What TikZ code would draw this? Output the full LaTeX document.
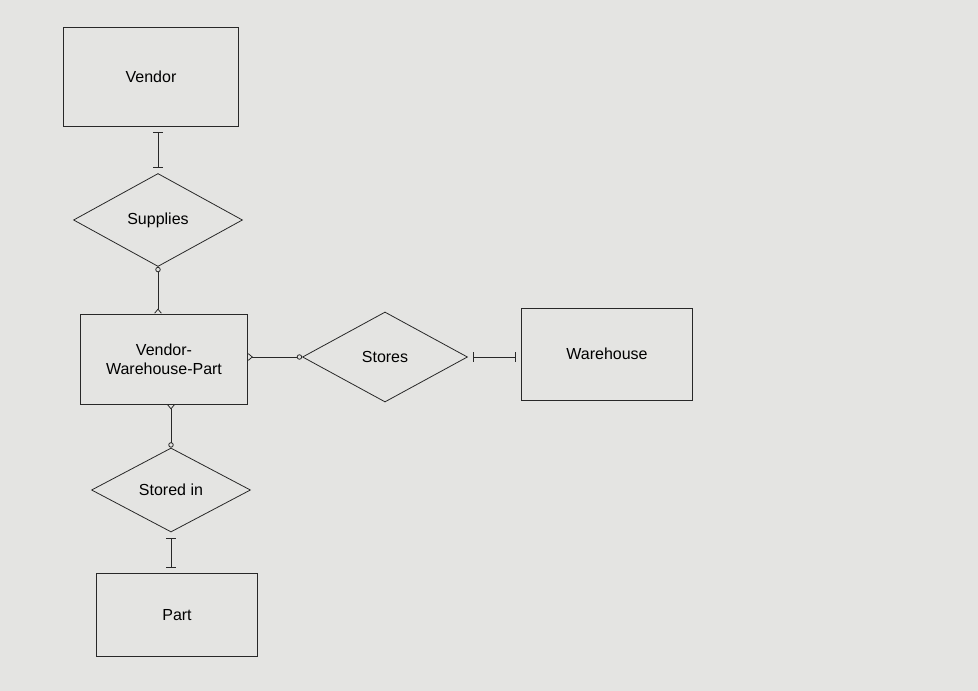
\documentclass[tikz,border=0pt]{standalone}
\usepackage{fontspec}
\setmainfont{Liberation Sans}
\usetikzlibrary{arrows.meta,shapes.geometric}
\definecolor{screen}{RGB}{228,228,226}
\definecolor{ink}{RGB}{40,40,40}

\begin{document}
\begin{tikzpicture}[x=0.75pt,y=-0.75pt,semithick,draw=ink,
                    entity/.style={rectangle,draw=ink,font=\large,align=center},
                    rel/.style={diamond,draw=ink,font=\large,inner sep=0pt},
                    one-one/.style={{Bar[width=7pt,sep=4pt]}-{Bar[width=7pt,sep=4pt]}},
                    zero-many/.style={{Circle[open,length=4pt,width=4pt]}-{Straight Barb[reversed,length=3pt,width=5pt]}},
                    many-zero/.style={{Straight Barb[reversed,length=3pt,width=5pt]}-{Circle[open,length=4pt,width=4pt]}}]

  \fill[screen] (0,0) rectangle (978,691);
  \useasboundingbox (0,0) rectangle (978,691);

  \node[entity,minimum width=175*0.75pt,minimum height=99*0.75pt] (vendor) at (151,77) {Vendor};
  \node[rel,minimum width=169*0.75pt,minimum height=93*0.75pt] (supplies) at (158,220) {Supplies};
  \node[entity,minimum width=167*0.75pt,minimum height=90*0.75pt] (vwp) at (164,359) {Vendor-\\Warehouse-Part};
  \node[rel,minimum width=165*0.75pt,minimum height=90*0.75pt] (stores) at (385,357) {Stores};
  \node[entity,minimum width=171*0.75pt,minimum height=92*0.75pt] (warehouse) at (607,354) {Warehouse};
  \node[rel,minimum width=159*0.75pt,minimum height=84*0.75pt] (storedin) at (171,490) {Stored in};
  \node[entity,minimum width=161*0.75pt,minimum height=83*0.75pt] (part) at (177,615) {Part};

  \draw[one-one] (vendor.south -| supplies.north) -- (supplies.north);
  \draw[zero-many] (supplies.south) -- (supplies.south |- vwp.north);
  \draw[many-zero] (vwp.east |- stores.west) -- (stores.west);
  \draw[one-one] (stores.east) -- (stores.east -| warehouse.west);
  \draw[many-zero] (vwp.south -| storedin.north) -- (storedin.north);
  \draw[one-one] (storedin.south) -- (storedin.south |- part.north);
\end{tikzpicture}
\end{document}
